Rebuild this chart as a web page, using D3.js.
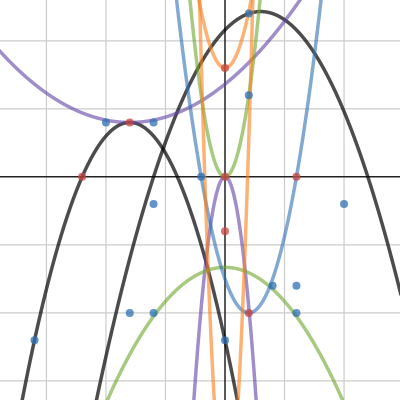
<!DOCTYPE html>
<html><head><meta charset="utf-8">
<script src="https://cdn.jsdelivr.net/npm/d3@7"></script>
<style>body{margin:0;background:#fff}svg{display:block}</style>
</head><body>
<svg id="chart" width="400" height="400"></svg>
<script>
// parabolas y = a*(x-h)^2 + k, colours as in the picture
const curves = [
  {a: -1.25, h: -1.6, k: 0.8, color: '#000000'},
  {a: -0.75, h: 0.6, k: 2.43, color: '#000000'},
  {a: 0.22, h: -1.6, k: 0.8, color: '#6042a6'},
  {a: -12, h: 0, k: 0, color: '#6042a6'},
  {a: 7.5, h: 0, k: 0, color: '#6ca62c'},
  {a: -0.5, h: 0, k: -1.33, color: '#6ca62c'},
  {a: 3.125, h: 0.4, k: -2, color: '#2d70b3'},
  {a: 5.2, h: 0, k: 1.6, color: '#fa7e19'},
  {a: 36.75, h: 0.02, k: -4.75, color: '#fa7e19'}
];
const bluePoints = [[-2,0.8],[-1.2,0.8],[-1.2,-0.4],[-0.4,0],[0.4,1.2],[0.4,2.4],[2,-0.4],
  [0.8,-1.6],[1.2,-1.6],[1.2,-2],[-1.6,-2],[-1.2,-2],[-3.2,-2.4],[0,-2.4]];
const redPoints = [[-1.6,0.8],[-2.4,0],[0,0],[0,-0.8],[0,1.6],[1.2,0],[0.4,-2]];

const W = 400, H = 400;
const x = d3.scaleLinear().domain([-3.78, 2.94]).range([0, W]);
const y = d3.scaleLinear().domain([-3.28, 2.6]).range([H, 0]);
const svg = d3.select('#chart');

svg.append('g').selectAll('line').data(d3.range(-3, 3).filter(v => v !== 0)).join('line')
  .attr('x1', d => x(d)).attr('x2', d => x(d)).attr('y1', 0).attr('y2', H)
  .attr('stroke', '#ccc').attr('stroke-width', 1.2);
svg.append('g').selectAll('line').data(d3.range(-3, 3).filter(v => v !== 0)).join('line')
  .attr('y1', d => y(d)).attr('y2', d => y(d)).attr('x1', 0).attr('x2', W)
  .attr('stroke', '#ccc').attr('stroke-width', 1.2);
svg.append('line').attr('x1', x(0)).attr('x2', x(0)).attr('y1', 0).attr('y2', H).attr('stroke', '#222').attr('stroke-width', 1.5);
svg.append('line').attr('y1', y(0)).attr('y2', y(0)).attr('x1', 0).attr('x2', W).attr('stroke', '#222').attr('stroke-width', 1.5);

const xs = d3.range(-3.8, 2.96, 0.002);
const line = d3.line().x(d => x(d[0])).y(d => y(d[1])).defined(d => d[1] > -4 && d[1] < 3.5);
svg.append('g').selectAll('path').data(curves).join('path')
  .attr('d', c => line(xs.map(v => [v, c.a * (v - c.h) ** 2 + c.k])))
  .attr('fill', 'none').attr('stroke', c => c.color)
  .attr('stroke-opacity', c => c.color === '#000000' ? 0.7 : 0.6).attr('stroke-width', 3.5);

svg.append('g').selectAll('circle').data(bluePoints).join('circle')
  .attr('cx', d => x(d[0])).attr('cy', d => y(d[1])).attr('r', 4)
  .attr('fill', '#2d70b3').attr('fill-opacity', 0.75);
svg.append('g').selectAll('circle').data(redPoints).join('circle')
  .attr('cx', d => x(d[0])).attr('cy', d => y(d[1])).attr('r', 4)
  .attr('fill', '#c74440').attr('fill-opacity', 0.75);
</script>
</body></html>
